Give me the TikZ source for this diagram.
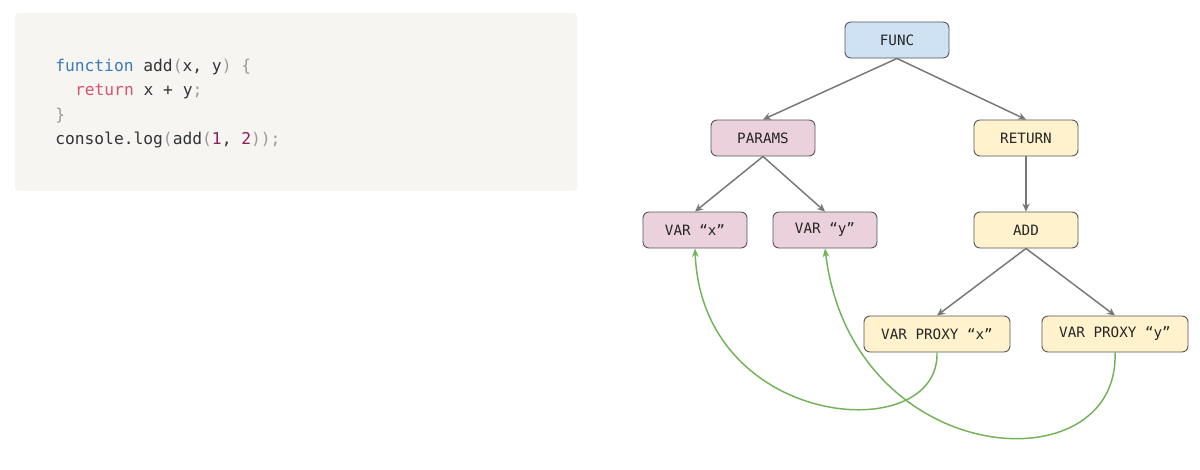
\documentclass[tikz,border=0pt]{standalone}
\usepackage{fontspec}
\setmonofont{DejaVu Sans Mono}
\usetikzlibrary{arrows.meta}
\definecolor{codebg}{HTML}{F6F5F2}
\definecolor{kwblue}{HTML}{3B7BB3}
\definecolor{kwred}{HTML}{D4566E}
\definecolor{punct}{HTML}{9A9A9A}
\definecolor{numcol}{HTML}{8E1F5C}
\definecolor{txt}{HTML}{333333}
\definecolor{fblue}{HTML}{CFE2F3}
\definecolor{fpink}{HTML}{EAD1DC}
\definecolor{fyellow}{HTML}{FFF2CC}
\definecolor{bord}{HTML}{555555}
\definecolor{edgecol}{HTML}{777777}
\definecolor{grn}{HTML}{72B35A}
\begin{document}
\begin{tikzpicture}[x=0.75pt,y=-0.75pt,
  codeline/.style={anchor=base west,inner sep=0pt,text=txt,font=\ttfamily\fontsize{12.2}{14}\selectfont},
  treebox/.style={draw=bord,line width=0.7pt,rounded corners=4.5pt,minimum width=78pt,minimum height=27pt,inner sep=0pt,text=black!85,font=\ttfamily\fontsize{10.7}{12}\selectfont},
  widebox/.style={treebox,minimum width=109.5pt},
  edge/.style={draw=edgecol,line width=1.1pt,-{Stealth[length=6pt,width=5.5pt]}},
  link/.style={draw=grn,line width=1.1pt,-{Stealth[length=6.5pt,width=5pt]}}]
\useasboundingbox (0,0) rectangle (1200,469);
\fill[codebg,rounded corners=2.5pt] (15,13) rectangle (577,191);
\node[codeline] (c1) at (55,71) {\textcolor{kwblue}{function} add\textcolor{punct}{(}x, y\textcolor{punct}{)} \textcolor{punct}{\{}};
\node[codeline] (c2) at (74.8,95.5) {\textcolor{kwred}{return} x + y\textcolor{punct}{;}};
\node[codeline] (c3) at (55,120) {\textcolor{punct}{\}}};
\node[codeline] (c4) at (55,144.5) {console.log\textcolor{punct}{(}add\textcolor{punct}{(}\textcolor{numcol}{1}, \textcolor{numcol}{2}\textcolor{punct}{));}};
\node[treebox,fill=fblue] (func) at (897,40) {FUNC};
\node[treebox,fill=fpink] (params) at (763,138) {PARAMS};
\node[treebox,fill=fyellow] (ret) at (1026,138) {RETURN};
\node[treebox,fill=fpink] (varx) at (695,230) {VAR “x”};
\node[treebox,fill=fpink] (vary) at (825,230) {VAR “y”};
\node[treebox,fill=fyellow] (add) at (1026,230) {ADD};
\node[widebox,fill=fyellow] (pxx) at (937,334) {VAR PROXY “x”};
\node[widebox,fill=fyellow] (pxy) at (1115,334) {VAR PROXY “y”};
\draw[edge] (func.south) -- (params.north);
\draw[edge] (func.south) -- (ret.north);
\draw[edge] (params.south) -- (varx.north);
\draw[edge] (params.south) -- (vary.north);
\draw[edge] (ret.south) -- (add.north);
\draw[edge] (add.south) -- (pxx.north);
\draw[edge] (add.south) -- (pxy.north);
\draw[link] (pxx.south) .. controls (940,448) and (702,430) .. (varx.south);
\draw[link] (pxy.south) .. controls (1120,488) and (852,470) .. (vary.south);
\end{tikzpicture}
\end{document}
